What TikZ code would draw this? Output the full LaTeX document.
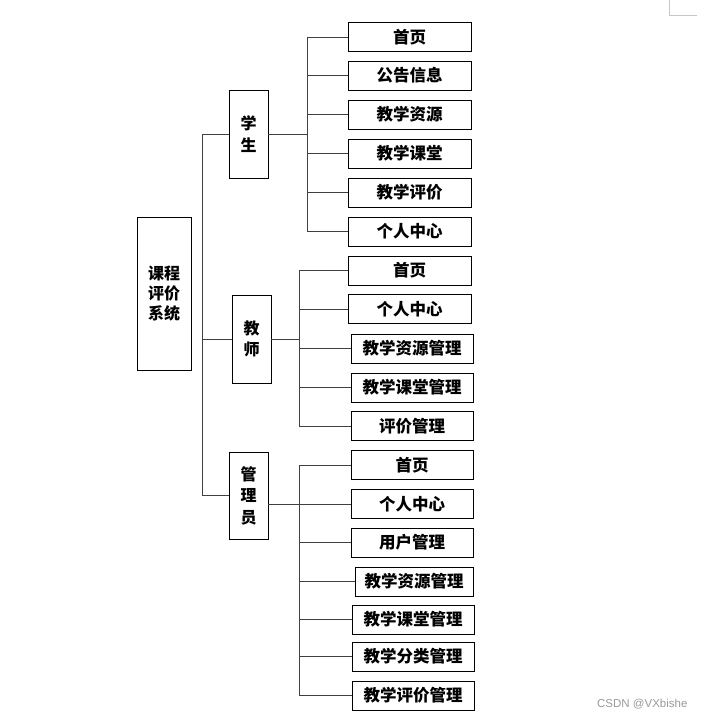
\documentclass[tikz,border=0pt]{standalone}
\usepackage{fontspec}
\newfontfamily\cjk{Noto Sans CJK SC}
\setsansfont{Liberation Sans}
\usepackage{tikz}
\usetikzlibrary{positioning}

\begin{document}
\begin{tikzpicture}[
  x=1pt, y=-1pt,
  leaf/.style={rectangle, draw, line width=0.9pt, minimum width=123pt,
               minimum height=29pt, inner sep=0pt, align=center,
               font=\cjk\bfseries\fontsize{16.5}{18}\selectfont},
  role/.style={rectangle, draw, line width=0.9pt, minimum width=39pt,
               minimum height=88pt, inner sep=0pt, align=center,
               font=\cjk\bfseries\fontsize{16}{21.5}\selectfont},
  root/.style={rectangle, draw, line width=0.9pt, minimum width=54pt,
                minimum height=153pt, inner sep=0pt, align=center,
                font=\cjk\bfseries\fontsize{16}{20}\selectfont},
  link/.style={line width=0.9pt, draw=black!75},
]
  \useasboundingbox (0,0) rectangle (705,718);

  % -- Root and roles --
  \node[root] (sys) at (164,293.5) {课程\\评价\\系统};
  \node[role] (stu) at (248.5,134) {学\\生};
  \node[role] (tea) at (251.5,339) {教\\师};
  \node[role, minimum height=87pt] (adm) at (248.5,495.5) {管\\理\\员};

  % -- Student pages --
  \node[leaf] (s1) at (409.5,37) {首页};
  \node[leaf] (s2) at (409.5,75.5) {公告信息};
  \node[leaf] (s3) at (409.5,114.5) {教学资源};
  \node[leaf] (s4) at (409.5,153.5) {教学课堂};
  \node[leaf] (s5) at (409.5,192.5) {教学评价};
  \node[leaf] (s6) at (409.5,231.5) {个人中心};

  % -- Teacher pages --
  \node[leaf] (t1) at (409.5,270.5) {首页};
  \node[leaf] (t2) at (409.5,309) {个人中心};
  \node[leaf, minimum width=122pt] (t3) at (412,348.5) {教学资源管理};
  \node[leaf, minimum width=122pt] (t4) at (412,387.5) {教学课堂管理};
  \node[leaf, minimum width=122pt] (t5) at (412,426) {评价管理};

  % -- Admin pages --
  \node[leaf, minimum width=122pt] (a1) at (412,465) {首页};
  \node[leaf, minimum width=122pt] (a2) at (412,504) {个人中心};
  \node[leaf, minimum width=122pt] (a3) at (412,542.5) {用户管理};
  \node[leaf, minimum width=118pt] (a4) at (414,581.5) {教学资源管理};
  \node[leaf, minimum width=122pt] (a5) at (413,619.5) {教学课堂管理};
  \node[leaf, minimum width=122pt] (a6) at (413,656.5) {教学分类管理};
  \node[leaf, minimum width=122pt] (a7) at (413,695.5) {教学评价管理};

  % Trunk
  \coordinate (trunk) at (202,134);
  \draw[link] (stu.west) -- (trunk) |- (adm.west);
  \draw[link] (tea.west) -- (tea.west -| trunk);

  % Student branch
  \coordinate (sbus) at (307,134);
  \draw[link] (stu.east) -- (sbus);
  \draw[link] (sbus |- s1.west) -- (sbus |- s6.west);
  \draw[link] (sbus |- s1.west) -- (s1.west);
  \draw[link] (sbus |- s2.west) -- (s2.west);
  \draw[link] (sbus |- s3.west) -- (s3.west);
  \draw[link] (sbus |- s4.west) -- (s4.west);
  \draw[link] (sbus |- s5.west) -- (s5.west);
  \draw[link] (sbus |- s6.west) -- (s6.west);

  % Teacher branch
  \coordinate (tbus) at (299,339);
  \draw[link] (tea.east) -- (tbus);
  \draw[link] (tbus |- t1.west) -- (tbus |- t5.west);
  \draw[link] (tbus |- t1.west) -- (t1.west);
  \draw[link] (tbus |- t2.west) -- (t2.west);
  \draw[link] (tbus |- t3.west) -- (t3.west);
  \draw[link] (tbus |- t4.west) -- (t4.west);
  \draw[link] (tbus |- t5.west) -- (t5.west);

  % Admin branch
  \coordinate (abus) at (299,504);
  \draw[link] (adm.east |- a2.west) -- (a2.west);
  \draw[link] (abus |- a1.west) -- (abus |- a7.west);
  \draw[link] (abus |- a1.west) -- (a1.west);
  \draw[link] (abus |- a3.west) -- (a3.west);
  \draw[link] (abus |- a4.west) -- (a4.west);
  \draw[link] (abus |- a5.west) -- (a5.west);
  \draw[link] (abus |- a6.west) -- (a6.west);
  \draw[link] (abus |- a7.west) -- (a7.west);

  % page corner and watermark
  \draw[gray!45, line width=0.8pt] (669,0) -- (669,15) -- (697,15);
  \node[font=\sffamily\fontsize{11.5}{13}\selectfont, text=gray!80, anchor=east] (mark) at (691,704) {CSDN @VXbishe};

\end{tikzpicture}
\end{document}
